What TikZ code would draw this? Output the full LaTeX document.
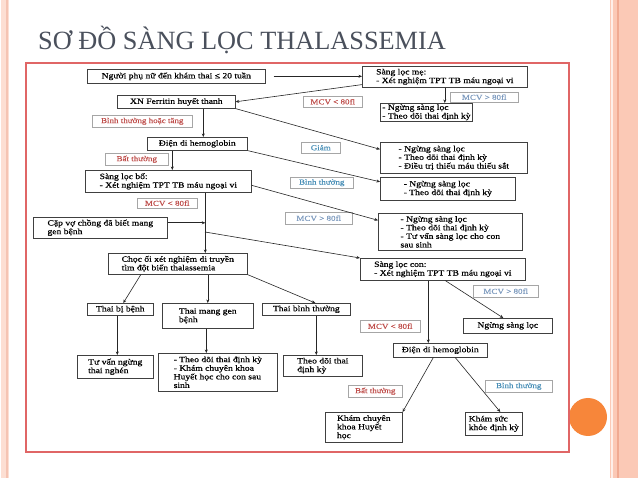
\documentclass[tikz,border=0pt]{standalone}
\usepackage{fontspec}
\setmainfont{Liberation Serif}
\newfontfamily\bxfont[FakeStretch=1.2,FakeBold=0.6]{Liberation Serif}
\usetikzlibrary{arrows.meta}
\definecolor{framec}{HTML}{E06666}
\definecolor{lblred}{HTML}{C0504D}
\definecolor{lblblue}{HTML}{4A90B8}
\definecolor{lblblueb}{HTML}{7F9CC0}
\definecolor{titlec}{HTML}{4A505C}
\definecolor{decoa}{HTML}{FBC9B6}
\definecolor{decob}{HTML}{F0AA92}
\definecolor{orng}{HTML}{F7863A}
\newcommand\mybox[7][]{%
  \node[bx, minimum width=#5pt, minimum height=#6pt, #1] (#2) at (#3,#4) {#7};}
\newcommand\mylbl[7]{%
  \node[lbl, minimum width=#5pt, minimum height=#6pt, text=#7] (#1) at (#3,#4) {#2};}
\begin{document}
\begin{tikzpicture}[x=1pt,y=-1pt,
  bx/.style={draw=black!75, line width=0.6pt, anchor=north west, align=left,
    font=\bxfont\fontsize{8}{8.6}\selectfont, inner xsep=2pt, inner ysep=1pt},
  lbl/.style={draw=black!35, line width=0.5pt, anchor=north west, align=center,
    font=\bxfont\fontsize{7.5}{8}\selectfont, inner sep=0pt},
  arr/.style={-{Stealth[length=3.5pt,width=3pt]}, line width=0.6pt, black!85}]
\useasboundingbox (0,0) rectangle (638,478);
\fill[white] (0,0) rectangle (638,478);
% decorations
\fill[decoa!60] (1,0) rectangle (9,478);
\draw[decob!70, line width=1.5pt] (7,0) -- (7,478);
\fill[decoa] (610,0) rectangle (638,478);
\draw[white!70!decoa, line width=1.5pt] (612,0) -- (612,478);
\fill[decob] (616.5,0) rectangle (619,478);
\fill[orng] (588,417) circle (19);
% title
\node[anchor=base west, font=\fontsize{26.3}{26.3}\selectfont, text=titlec, inner sep=0pt] (title) at (38,50) {SƠ ĐỒ SÀNG LỌC THALASSEMIA};
% frame
\draw[framec, line width=1.2pt] (26,63) rectangle (569,452);
% boxes
\mybox{woman}{87}{69}{178}{14}{Người phụ nữ đến khám thai ≤ 20 tuần}
\mybox{me}{362}{66}{165}{21}{Sàng lọc mẹ:\\- Xét nghiệm TPT TB máu ngoại vi}
\mybox{ferritin}{117}{95}{118}{13}{XN Ferritin huyết thanh}
\mybox{stopa}{380}{103}{90}{18}{- Ngừng sàng lọc\\- Theo dõi thai định kỳ}
\mybox{dda}{147}{137}{100}{13}{Điện di hemoglobin}
\mybox{stopb}{380}{142}{147}{31}{- Ngừng sàng lọc\\- Theo dõi thai định kỳ\\- Điều trị thiếu máu thiếu sắt}
\mybox{bo}{85}{170}{166}{22}{Sàng lọc bố:\\- Xét nghiệm TPT TB máu ngoại vi}
\mybox{stopc}{380}{177}{135}{23}{- Ngừng sàng lọc\\- Theo dõi thai định kỳ}
\mybox{stopd}{378}{213}{144}{37}{- Ngừng sàng lọc\\- Theo dõi thai định kỳ\\- Tư vấn sàng lọc cho con\\sau sinh}
\mybox{capvc}{33}{217}{134}{21}{Cặp vợ chồng đã biết mang\\gen bệnh}
\mybox{chocoi}{108}{253}{139}{21}{Chọc ối xét nghiệm di truyền\\tìm đột biến thalassemia}
\mybox{con}{360}{258}{165}{22}{Sàng lọc con:\\- Xét nghiệm TPT TB máu ngoại vi}
\mybox{tbb}{87}{303}{66}{12}{Thai bị bệnh}
\mybox{tmg}{162}{303}{91}{25}{Thai mang gen\\bệnh}
\mybox{tbt}{262}{303}{88}{12}{Thai bình thường}
\mybox{tuvan}{77}{355}{76}{23}{Tư vấn ngừng\\thai nghén}
\mybox{tdd}{158}{353}{119}{38}{- Theo dõi thai định kỳ\\- Khám chuyên khoa\\Huyết học cho con sau\\sinh}
\mybox{tdb}{283}{355}{79}{21}{Theo dõi thai\\định kỳ}
\mybox{stopcon}{463}{318}{89}{15}{Ngừng sàng lọc}
\mybox{ddb}{393}{343}{94}{14}{Điện di hemoglobin}
\mybox{khamck}{325}{412}{77}{30}{Khám chuyên\\khoa Huyết\\học}
\mybox{khamsk}{465}{412}{57}{23}{Khám sức\\khỏe định kỳ}
% labels
\mylbl{la}{MCV < 80fl}{303}{96}{59}{11}{lblred}
\mylbl{lb}{MCV > 80fl}{450}{92}{68}{10}{lblblueb}
\mylbl{lc}{Bình thường hoặc tăng}{92}{115}{100}{12}{lblred}
\mylbl{ld}{Giảm}{301}{142}{39}{11}{lblblue}
\mylbl{le}{Bất thường}{105}{153}{63}{12}{lblred}
\mylbl{lf}{Bình thường}{290}{177}{63}{11}{lblblue}
\mylbl{lg}{MCV > 80fl}{285}{212}{67}{12}{lblblueb}
\mylbl{lh}{MCV < 80fl}{137}{198}{60}{10}{lblred}
\mylbl{li}{MCV > 80fl}{473}{285}{65}{12}{lblblueb}
\mylbl{lj}{MCV < 80fl}{360}{320}{60}{12}{lblred}
\mylbl{lk}{Bất thường}{348}{385}{54}{12}{lblred}
\mylbl{ll}{Bình thường}{485}{380}{67}{12}{lblblue}
% connectors
\coordinate (bov) at ([xshift=37pt]bo.south);
\coordinate (jb) at (205,232);
\draw[arr, shorten <=8pt] (woman.east) -- (woman.east -| me.west);
\draw[arr] ([yshift=3pt]me.south west) -- (ferritin.east);
\draw[arr] (me.south) -- (me.south |- stopa.north);
\draw[arr] ([xshift=27pt]ferritin.south) -- ([xshift=27pt]ferritin.south |- dda.north);
\draw[arr] (ferritin.south east) -- ([yshift=8.5pt]stopb.west);
\draw[arr] ([xshift=-25pt]dda.south) -- ([xshift=-25pt]dda.south |- bo.north);
\draw[arr] (dda.south east) -- ([yshift=7pt]stopc.west);
\draw[arr] ([yshift=-4pt]bo.east) -- ([yshift=11.5pt]stopd.west);
\draw[arr] (bov) -- (bov |- chocoi.north);
\draw[arr] ([yshift=5pt]capvc.east) -- ([yshift=5pt]capvc.east -| bov);
\draw[arr] (jb) -- (con.north west);
\draw[arr] ([xshift=-37pt]chocoi.south) -- ([xshift=3pt]tbb.north);
\draw[arr] (tmg.north |- chocoi.south) -- (tmg.north);
\draw[arr] (chocoi.south east) -- ([xshift=9pt]tbt.north);
\draw[arr] ([xshift=-3pt]tbb.south) -- ([xshift=-3pt]tbb.south |- tuvan.north);
\draw[arr] ([xshift=-1.5pt]tmg.south) -- ([xshift=-1.5pt]tmg.south |- tdd.north);
\draw[arr] ([xshift=10pt]tbt.south) -- ([xshift=10pt]tbt.south |- tdb.north);
\draw[arr] ([xshift=-14.5pt]con.south) -- ([xshift=-14.5pt]con.south |- ddb.north);
\draw[arr] ([xshift=2.5pt]con.south) -- ([xshift=-4.5pt]stopcon.north);
\draw[arr] ([xshift=-7pt]ddb.south) -- (khamck.north east);
\draw[arr] ([xshift=15pt]ddb.south) -- ([xshift=6.5pt]khamsk.north);
\end{tikzpicture}
\end{document}
